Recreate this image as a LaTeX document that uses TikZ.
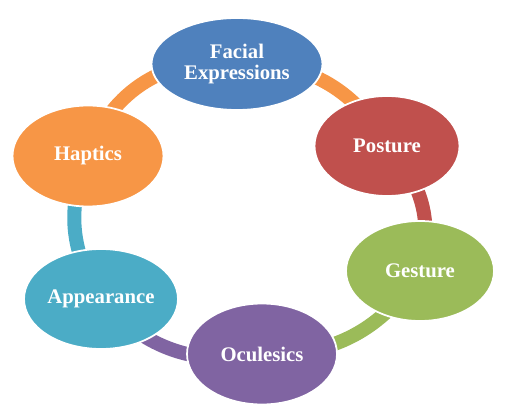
\documentclass[tikz,border=0pt]{standalone}
\usepackage{fontspec}
\setmainfont{Liberation Serif}
\usetikzlibrary{shapes.geometric,backgrounds}

\definecolor{cblue}{HTML}{4F81BD}
\definecolor{cred}{HTML}{C0504D}
\definecolor{cgreen}{HTML}{9BBB59}
\definecolor{cpurple}{HTML}{8064A2}
\definecolor{cteal}{HTML}{4BACC6}
\definecolor{corange}{HTML}{F79646}

\begin{document}
\begin{tikzpicture}[
    x=0.02cm, y=-0.02cm,
    cue/.style={ellipse, draw=white, line width=1pt, inner sep=0pt,
        minimum width=3cm, minimum height=2cm, text=white, align=center,
        font=\fontsize{11.8}{12.5}\selectfont\bfseries},
    link/.style={line width=8pt}
]
\useasboundingbox (0,0) rectangle (509,411);

% Elements du cycle
\node[cue, fill=cblue, minimum width=3.42cm, minimum height=1.84cm] (facial) at (237,64) {Facial\\Expressions};
\node[cue, fill=cred, minimum width=2.9cm] (posture) at (387,146) {Posture};
\node[cue, fill=cgreen, minimum width=2.96cm] (gesture) at (420,271) {Gesture};
\node[cue, fill=cpurple, minimum height=2.02cm] (oculesics) at (262,354) {Oculesics};
\node[cue, fill=cteal, minimum width=3.08cm] (appearance) at (101,299) {Appearance};
\node[cue, fill=corange, minimum width=3.02cm, minimum height=2.02cm] (haptics) at (88,156) {Haptics};

% Liaisons
\begin{pgfonlayer}{background}
\draw[link, corange] (haptics.center) to[bend left=40] (facial.center);
\draw[link, corange] (facial.center) to[bend left=32] (posture.center);
\draw[link, cred] (posture.center) to[bend left=30] (gesture.center);
\draw[link, cgreen] (gesture.center) to[bend left=30] (oculesics.center);
\draw[link, cpurple] (oculesics.center) to[bend left=30] (appearance.center);
\draw[link, cteal] (appearance.center) to[bend left=28] (haptics.center);
\end{pgfonlayer}

\end{tikzpicture}
\end{document}
